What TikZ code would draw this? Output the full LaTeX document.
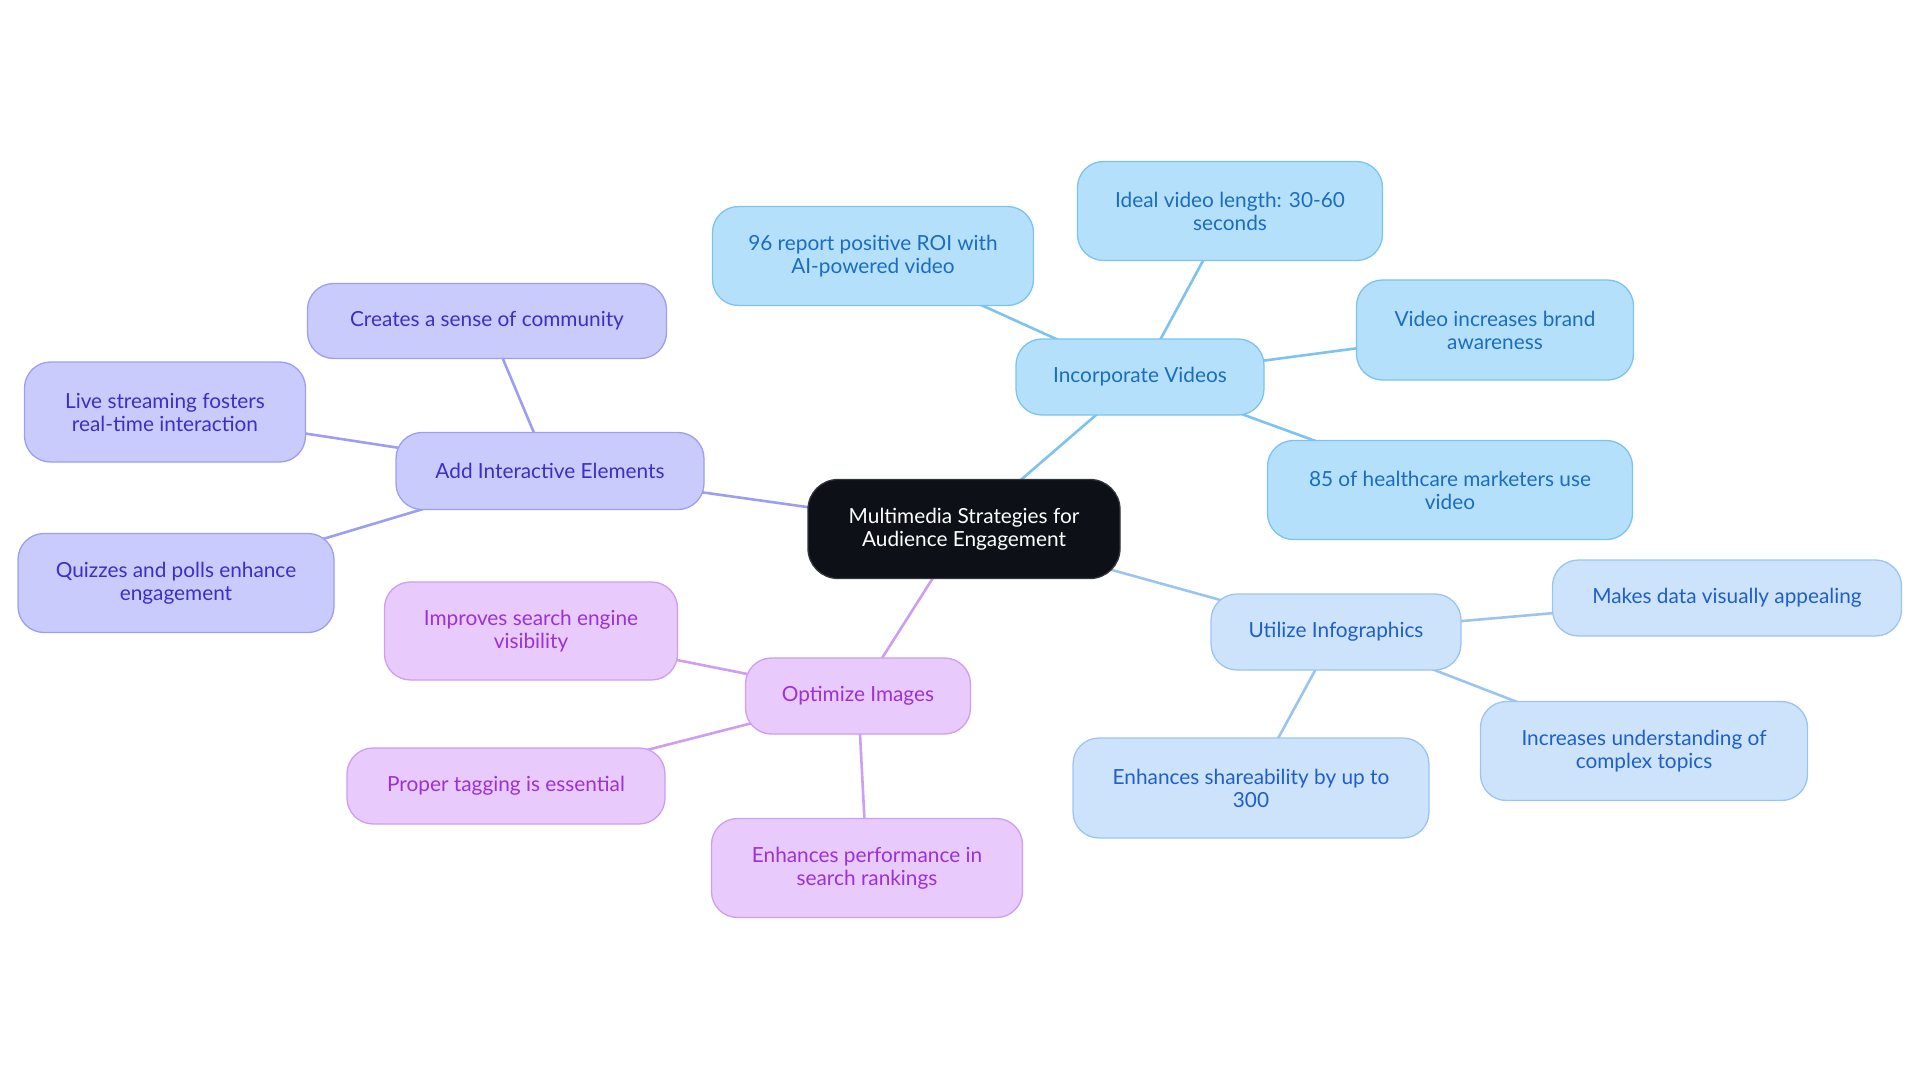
\documentclass[tikz,border=0pt]{standalone}
\usepackage{fontspec}
\setmainfont{Lato}
\usetikzlibrary{backgrounds}
\definecolor{cfill}{HTML}{0D1117}
\definecolor{cdraw}{HTML}{30363D}
\definecolor{vfill}{HTML}{B5E0FC}
\definecolor{vdraw}{HTML}{7DC3F0}
\definecolor{vtext}{HTML}{1A6DBF}
\definecolor{ifill}{HTML}{CDE3FB}
\definecolor{idraw}{HTML}{9CC4F2}
\definecolor{itext}{HTML}{1F5FC9}
\definecolor{afill}{HTML}{C9CBFD}
\definecolor{adraw}{HTML}{9C9EF2}
\definecolor{atext}{HTML}{3A30C8}
\definecolor{pfill}{HTML}{E8CAFC}
\definecolor{pdraw}{HTML}{CF9DF2}
\definecolor{ptext}{HTML}{9A32D8}
\tikzset{
  box/.style={rectangle, rounded corners=26pt, line width=1.3pt, align=center,
    inner sep=0pt, font=\fontsize{20.8}{23}\selectfont},
  root/.style={box, fill=cfill, draw=cdraw, text=white, rounded corners=30pt},
  vbox/.style={box, fill=vfill, draw=vdraw, text=vtext},
  ibox/.style={box, fill=ifill, draw=idraw, text=itext},
  abox/.style={box, fill=afill, draw=adraw, text=atext},
  pbox/.style={box, fill=pfill, draw=pdraw, text=ptext},
  sz/.style 2 args={minimum width=#1pt, minimum height=#2pt},
  vline/.style={draw=vdraw, line width=2.6pt},
  iline/.style={draw=idraw, line width=2.6pt},
  aline/.style={draw=adraw, line width=2.6pt},
  pline/.style={draw=pdraw, line width=2.6pt},
}
\begin{document}
\begin{tikzpicture}[x=1pt,y=-1pt]
\useasboundingbox (0,0) rectangle (1920,1083);
% root
\node[root, sz={312}{99}] (root) at (964,529) {Multimedia Strategies for\\Audience Engagement};
% videos
\node[vbox, sz={248}{76}] (vid) at (1140,377) {Incorporate Videos};
\node[vbox, sz={321}{99}] (roi) at (873,256) {96 report positive ROI with\\AI-powered video};
\node[vbox, sz={305}{99}] (ideal) at (1230,211) {Ideal video length: 30-60\\seconds};
\node[vbox, sz={277}{100}] (brand) at (1495,330) {Video increases brand\\awareness};
\node[vbox, sz={365}{99}] (hc) at (1450,490) {85 of healthcare marketers use\\video};
% infographics
\node[ibox, sz={250}{76}] (info) at (1336,632) {Utilize Infographics};
\node[ibox, sz={349}{76}] (data) at (1727,598) {Makes data visually appealing};
\node[ibox, sz={327}{99}] (under) at (1644,751) {Increases understanding of\\complex topics};
\node[ibox, sz={356}{100}] (share) at (1251,788) {Enhances shareability by up to\\300};
% images
\node[pbox, sz={225}{76}] (img) at (858,696) {Optimize Images};
\node[pbox, sz={293}{98}] (seo) at (531,631) {Improves search engine\\visibility};
\node[pbox, sz={318}{76}] (tag) at (506,786) {Proper tagging is essential};
\node[pbox, sz={311}{99}] (perf) at (867,868) {Enhances performance in\\search rankings};
% interactive
\node[abox, sz={308}{77}] (inter) at (550,471) {Add Interactive Elements};
\node[abox, sz={359}{75}] (comm) at (487,321) {Creates a sense of community};
\node[abox, sz={281}{100}] (live) at (165,412) {Live streaming fosters\\real-time interaction};
\node[abox, sz={316}{99}] (quiz) at (176,583) {Quizzes and polls enhance\\engagement};
\begin{scope}[on background layer]
\draw[vline] (root.center) -- (vid.center);
\draw[vline] (vid.center) -- (roi.center);
\draw[vline] (vid.center) -- (ideal.center);
\draw[vline] (vid.center) -- (brand.center);
\draw[vline] (vid.center) -- (hc.center);
\draw[iline] (root.center) -- (info.center);
\draw[iline] (info.center) -- (data.center);
\draw[iline] (info.center) -- (under.center);
\draw[iline] (info.center) -- (share.center);
\draw[pline] (root.center) -- (img.center);
\draw[pline] (img.center) -- (seo.center);
\draw[pline] (img.center) -- (tag.center);
\draw[pline] (img.center) -- (perf.center);
\draw[aline] (root.center) -- (inter.center);
\draw[aline] (inter.center) -- (comm.center);
\draw[aline] (inter.center) -- (live.center);
\draw[aline] (inter.center) -- (quiz.center);
\end{scope}
\end{tikzpicture}
\end{document}
